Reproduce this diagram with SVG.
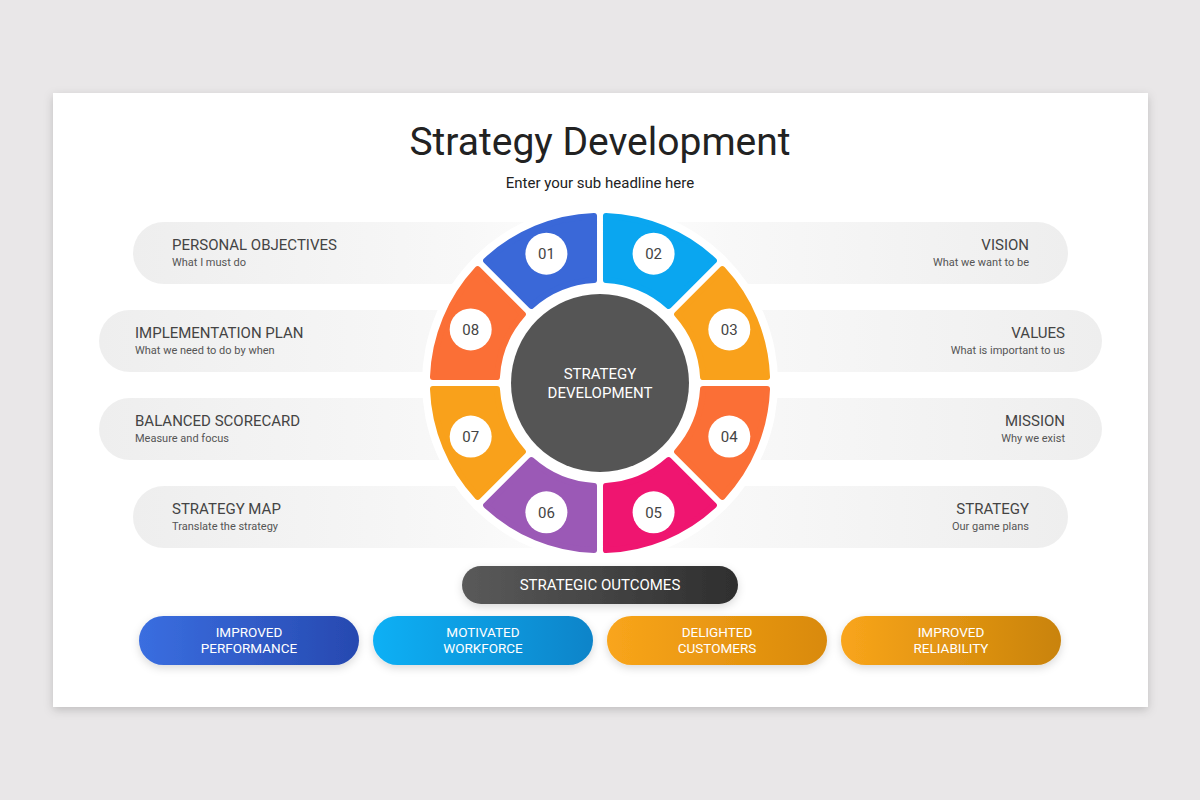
<svg xmlns="http://www.w3.org/2000/svg" width="1200" height="800" viewBox="0 0 1200 800">
<defs>
<filter id="sh" x="-10%" y="-10%" width="120%" height="130%"><feDropShadow dx="0" dy="3" stdDeviation="5" flood-color="#000" flood-opacity="0.18"/></filter>
<filter id="sh2" x="-10%" y="-20%" width="120%" height="160%"><feDropShadow dx="0" dy="3" stdDeviation="4" flood-color="#000" flood-opacity="0.15"/></filter>
<linearGradient id="gl" x1="0" x2="1" y1="0" y2="0"><stop offset="0" stop-color="#eeeeee"/><stop offset="0.7" stop-color="#f8f8f8"/><stop offset="1" stop-color="#ffffff"/></linearGradient>
<linearGradient id="gr" x1="1" x2="0" y1="0" y2="0"><stop offset="0" stop-color="#eeeeee"/><stop offset="0.7" stop-color="#f8f8f8"/><stop offset="1" stop-color="#ffffff"/></linearGradient>
<linearGradient id="gd" x1="0" x2="1"><stop offset="0" stop-color="#5a5a5a"/><stop offset="1" stop-color="#2e2e2e"/></linearGradient>
<linearGradient id="g1" x1="0" x2="1"><stop offset="0" stop-color="#3a6ee0"/><stop offset="1" stop-color="#2749b0"/></linearGradient>
<linearGradient id="g2" x1="0" x2="1"><stop offset="0" stop-color="#0bb0f5"/><stop offset="1" stop-color="#0a84c9"/></linearGradient>
<linearGradient id="g3" x1="0" x2="1"><stop offset="0" stop-color="#f9a51b"/><stop offset="1" stop-color="#d98a0a"/></linearGradient>
<linearGradient id="g4" x1="0" x2="1"><stop offset="0" stop-color="#f9a51b"/><stop offset="1" stop-color="#c9830a"/></linearGradient>
<path id="seg" d="M541.6,226.4 A167 167 0 0 1 658.4,226.4 L633.9,285.5 A103 103 0 0 0 566.1,285.5 Z"/>
</defs>
<style>
.t{font-family:Roboto,"Liberation Sans",sans-serif}
.lab{font-size:15px;fill:#444}
.sub{font-size:11px;fill:#555}
.num{font-size:15px;fill:#444;text-anchor:middle}
.btn{font-size:13.5px;fill:#fff;text-anchor:middle}
.segp{stroke-width:6;stroke-linejoin:round}
</style>
<rect width="1200" height="800" fill="#e9e7e8"/>
<rect x="53" y="93" width="1095" height="614" fill="#fff" filter="url(#sh)"/>
<text class="t" x="600" y="155" font-size="39" fill="#222" text-anchor="middle">Strategy Development</text>
<text class="t" x="600" y="188" font-size="15" fill="#222" text-anchor="middle">Enter your sub headline here</text>

<g id="pills">
<rect x="133" y="222" width="480" height="62" rx="31" fill="url(#gl)"/>
<rect x="99" y="310" width="514" height="62" rx="31" fill="url(#gl)"/>
<rect x="99" y="398" width="514" height="62" rx="31" fill="url(#gl)"/>
<rect x="133" y="486" width="480" height="62" rx="31" fill="url(#gl)"/>
<rect x="588" y="222" width="480" height="62" rx="31" fill="url(#gr)"/>
<rect x="588" y="310" width="514" height="62" rx="31" fill="url(#gr)"/>
<rect x="588" y="398" width="514" height="62" rx="31" fill="url(#gr)"/>
<rect x="588" y="486" width="480" height="62" rx="31" fill="url(#gr)"/>
</g>
<g id="labels" class="t">
<text class="lab" x="172" y="250">PERSONAL OBJECTIVES</text><text class="sub" x="172" y="266">What I must do</text>
<text class="lab" x="135" y="338">IMPLEMENTATION PLAN</text><text class="sub" x="135" y="354">What we need to do by when</text>
<text class="lab" x="135" y="426">BALANCED SCORECARD</text><text class="sub" x="135" y="442">Measure and focus</text>
<text class="lab" x="172" y="514">STRATEGY MAP</text><text class="sub" x="172" y="530">Translate the strategy</text>
<g text-anchor="end">
<text class="lab" x="1029" y="250">VISION</text><text class="sub" x="1029" y="266">What we want to be</text>
<text class="lab" x="1065" y="338">VALUES</text><text class="sub" x="1065" y="354">What is important to us</text>
<text class="lab" x="1065" y="426">MISSION</text><text class="sub" x="1065" y="442">Why we exist</text>
<text class="lab" x="1029" y="514">STRATEGY</text><text class="sub" x="1029" y="530">Our game plans</text>
</g>
</g>

<circle cx="600" cy="383" r="178" fill="#fff"/>
<g id="ring">
<use href="#seg" class="segp" fill="#3a68d8" stroke="#3a68d8" transform="rotate(-22.5 600 383)"/>
<use href="#seg" class="segp" fill="#0aa6f0" stroke="#0aa6f0" transform="rotate(22.5 600 383)"/>
<use href="#seg" class="segp" fill="#f9a11b" stroke="#f9a11b" transform="rotate(67.5 600 383)"/>
<use href="#seg" class="segp" fill="#fb6f36" stroke="#fb6f36" transform="rotate(112.5 600 383)"/>
<use href="#seg" class="segp" fill="#ef1570" stroke="#ef1570" transform="rotate(157.5 600 383)"/>
<use href="#seg" class="segp" fill="#9b59b6" stroke="#9b59b6" transform="rotate(202.5 600 383)"/>
<use href="#seg" class="segp" fill="#f9a11b" stroke="#f9a11b" transform="rotate(247.5 600 383)"/>
<use href="#seg" class="segp" fill="#fb6f36" stroke="#fb6f36" transform="rotate(292.5 600 383)"/>
</g>
<g id="numbers" class="t" fill="#fff">
<circle cx="546.4" cy="253.7" r="21"/><circle cx="653.6" cy="253.7" r="21"/><circle cx="729.3" cy="329.4" r="21"/><circle cx="729.3" cy="436.6" r="21"/>
<circle cx="653.6" cy="512.3" r="21"/><circle cx="546.4" cy="512.3" r="21"/><circle cx="470.7" cy="436.6" r="21"/><circle cx="470.7" cy="329.4" r="21"/>
<text class="num" x="546.4" y="259">01</text><text class="num" x="653.6" y="259">02</text><text class="num" x="729.3" y="335">03</text><text class="num" x="729.3" y="442">04</text>
<text class="num" x="653.6" y="517.5">05</text><text class="num" x="546.4" y="517.5">06</text><text class="num" x="470.7" y="442">07</text><text class="num" x="470.7" y="335">08</text>
</g>
<g id="center">
<circle cx="600" cy="383" r="89" fill="#555"/>
<text class="t" x="600" y="379" font-size="15" fill="#fff" text-anchor="middle">STRATEGY</text>
<text class="t" x="600" y="398" font-size="15" fill="#fff" text-anchor="middle">DEVELOPMENT</text>
</g>
<g id="outcomes">
<rect x="462" y="566" width="276" height="38" rx="19" fill="url(#gd)" filter="url(#sh2)"/>
<text class="t" x="600" y="590" font-size="15" fill="#fff" text-anchor="middle">STRATEGIC OUTCOMES</text>
</g>
<g id="o1"><rect x="139" y="616" width="220" height="49" rx="24.5" fill="url(#g1)" filter="url(#sh2)"/><text class="t btn" x="249" y="637">IMPROVED</text><text class="t btn" x="249" y="653">PERFORMANCE</text></g>
<g id="o2"><rect x="373" y="616" width="220" height="49" rx="24.5" fill="url(#g2)" filter="url(#sh2)"/><text class="t btn" x="483" y="637">MOTIVATED</text><text class="t btn" x="483" y="653">WORKFORCE</text></g>
<g id="o3"><rect x="607" y="616" width="220" height="49" rx="24.5" fill="url(#g3)" filter="url(#sh2)"/><text class="t btn" x="717" y="637">DELIGHTED</text><text class="t btn" x="717" y="653">CUSTOMERS</text></g>
<g id="o4"><rect x="841" y="616" width="220" height="49" rx="24.5" fill="url(#g4)" filter="url(#sh2)"/><text class="t btn" x="951" y="637">IMPROVED</text><text class="t btn" x="951" y="653">RELIABILITY</text></g>
</svg>
